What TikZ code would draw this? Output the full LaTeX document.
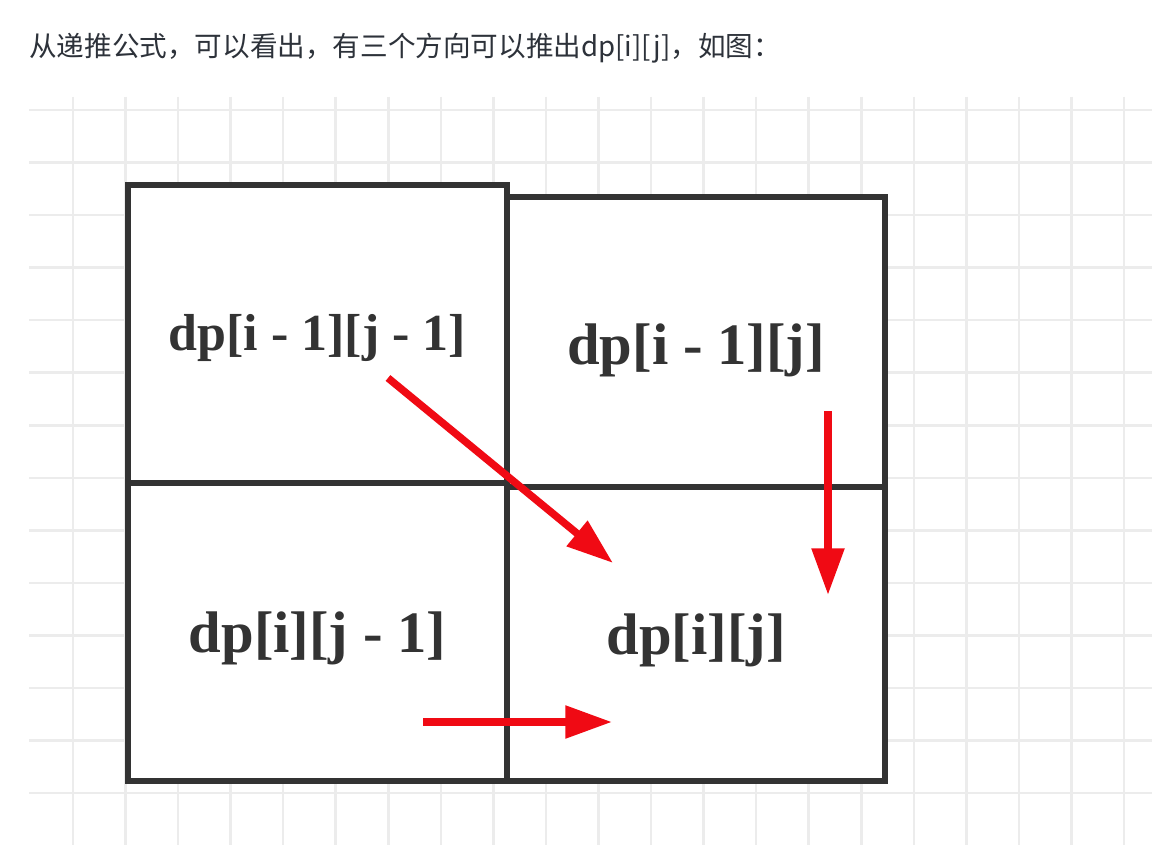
\documentclass[tikz,border=0pt]{standalone}
\usepackage{fontspec}
\setmainfont{Liberation Serif}
\newfontfamily\cjk{Noto Sans CJK SC}
\usetikzlibrary{arrows.meta}
\definecolor{ink}{RGB}{51,51,51}
\definecolor{titleink}{RGB}{45,50,58}
\definecolor{gridc}{RGB}{236,236,236}
\definecolor{arr}{RGB}{240,10,20}
\begin{document}
\begin{tikzpicture}[x=0.75pt,y=-0.75pt,
  gridline/.style={draw=gridc, line width=1.9pt},
  cell/.style={draw=ink, line width=4.2pt, fill=white, rectangle, inner sep=0pt},
  lbl/.style={inner sep=0pt, text=ink, font=\bfseries\fontsize{44}{44}\selectfont},
  smalllbl/.style={lbl, font=\bfseries\fontsize{39}{39}\selectfont},
  arrowline/.style={draw=arr, line width=5.6pt, -{Triangle[length=35pt,width=23.5pt]}},
  title/.style={anchor=west, inner sep=0pt, text=titleink, font=\cjk\fontsize{20.7}{20.7}\selectfont}]
\fill[white] (0,0) rectangle (1152,845);
\useasboundingbox (0,0) rectangle (1152,845);
% grid
\foreach \k in {0,...,20} \draw[gridline] ({73+52.55*\k},97) -- ({73+52.55*\k},845);
\foreach \k in {0,...,13} \draw[gridline] (29,{110+52.54*\k}) -- (1152,{110+52.54*\k});
% title
\node[title] (ttl) at (29,48) {从递推公式，可以看出，有三个方向可以推出dp[i][j]，如图：};
% cells
\node[cell, minimum width=284.25pt, minimum height=223.5pt] (tl) at (317.5,334) {};
\node[cell, minimum width=283.5pt, minimum height=217.5pt] (tr) at (696,342) {};
\node[cell, minimum width=284.25pt, minimum height=223.5pt] (bl) at (317.5,632) {};
\node[cell, minimum width=283.5pt, minimum height=220.5pt] (br) at (696,634) {};
% labels
\node[smalllbl] (tlt) at ([yshift=-3pt]tl.center) {dp[i - 1][j - 1]};
\node[lbl] (trt) at ([yshift=-6.5pt]tr.center) {dp[i - 1][j]};
\node[lbl] (blt) at ([yshift=-5pt]bl.center) {dp[i][j - 1]};
\node[lbl] (brt) at ([yshift=-5pt]br.center) {dp[i][j]};
% arrows
\coordinate (d1) at (388,378);
\coordinate (d2) at (613,563);
\coordinate (v1) at (828,411);
\coordinate (v2) at (828,595);
\coordinate (h1) at (423,722);
\coordinate (h2) at (612,722);
\draw[arrowline] (d1) -- (d2);
\draw[arrowline] (v1) -- (v2);
\draw[arrowline] (h1) -- (h2);
\end{tikzpicture}
\end{document}
